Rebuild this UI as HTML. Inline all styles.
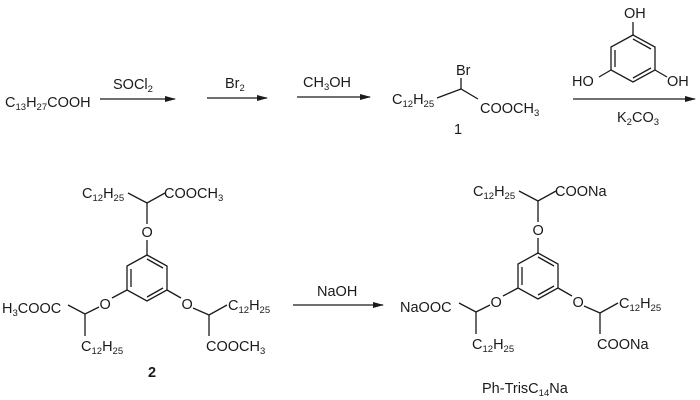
<!DOCTYPE html>
<html><head><meta charset="utf-8"><style>
html,body{margin:0;padding:0;background:#fff;width:700px;height:400px;overflow:hidden}
svg{display:block}
text{font-family:"Liberation Sans",Arial,sans-serif;font-size:14.5px;fill:#1a1a1a}
.s{font-size:9.5px}
line,polyline{stroke:#1a1a1a;stroke-width:1.3;fill:none}
</style></head><body>
<svg width="700" height="400" viewBox="0 0 700 400" xmlns="http://www.w3.org/2000/svg">
<defs><marker id="a" markerWidth="11" markerHeight="8" refX="10" refY="4" orient="auto" markerUnits="userSpaceOnUse"><path d="M0,1 L11,4 L0,7 Z" fill="#1a1a1a"/></marker></defs>

<!-- top row -->
<text x="5" y="107">C<tspan class="s" dy="3">13</tspan><tspan dy="-3">H</tspan><tspan class="s" dy="3">27</tspan><tspan dy="-3">COOH</tspan></text>
<line x1="100" y1="99" x2="175" y2="99" marker-end="url(#a)"/>
<text x="113" y="89">SOCl<tspan class="s" dy="3">2</tspan></text>
<line x1="207" y1="98" x2="267" y2="98" marker-end="url(#a)"/>
<text x="225" y="88">Br<tspan class="s" dy="3">2</tspan></text>
<line x1="297" y1="97" x2="370" y2="97" marker-end="url(#a)"/>
<text x="303" y="87">CH<tspan class="s" dy="3">3</tspan><tspan dy="-3">OH</tspan></text>

<text x="392" y="104">C<tspan class="s" dy="3">12</tspan><tspan dy="-3">H</tspan><tspan class="s" dy="3">25</tspan></text>
<polyline points="437,98 461,89 478,99"/>
<line x1="461" y1="78" x2="461" y2="89"/>
<text x="456" y="75">Br</text>
<text x="480" y="113">COOCH<tspan class="s" dy="3">3</tspan></text>
<text x="454" y="134">1</text>

<line x1="573" y1="99" x2="695" y2="99" marker-end="url(#a)"/>
<text x="617" y="122">K<tspan class="s" dy="3">2</tspan><tspan dy="-3">CO</tspan><tspan class="s" dy="3">3</tspan></text>
<polyline points="633,35 655,47 655,70 633,82 611,70 611,47 633,35"/>
<line x1="615" y1="50" x2="615" y2="67"/>
<line x1="633" y1="39" x2="651" y2="49"/>
<line x1="633" y1="78" x2="651" y2="68"/>
<line x1="633" y1="35" x2="633" y2="22"/>
<line x1="611" y1="70" x2="599" y2="77"/>
<line x1="655" y1="70" x2="667" y2="77"/>
<text x="624" y="18">OH</text>
<text x="572" y="86">HO</text>
<text x="667" y="86">OH</text>

<!-- compound 2 -->
<g id="c2">
<polyline points="147,255 167,266 167,290 147,301 127,290 127,266 147,255"/>
<line x1="131" y1="269" x2="131" y2="287"/>
<line x1="147" y1="259" x2="163" y2="268"/>
<line x1="147" y1="297" x2="163" y2="288"/>
<line x1="147" y1="255" x2="147" y2="240"/>
<line x1="147" y1="224" x2="147" y2="203"/>
<polyline points="128,193 147,203 165,193"/>
<line x1="167" y1="290" x2="181" y2="298"/>
<polyline points="193,308 209,315 227,305"/>
<line x1="209" y1="315" x2="209" y2="336"/>
<line x1="127" y1="290" x2="112" y2="298"/>
<polyline points="99,307 85,314 68,305"/>
<line x1="85" y1="314" x2="85" y2="336"/>
<text x="141.5" y="237">O</text>
<text x="181.5" y="309">O</text>
<text x="99.5" y="309">O</text>
<text x="82" y="198">C<tspan class="s" dy="3">12</tspan><tspan dy="-3">H</tspan><tspan class="s" dy="3">25</tspan></text>
<text x="228" y="310">C<tspan class="s" dy="3">12</tspan><tspan dy="-3">H</tspan><tspan class="s" dy="3">25</tspan></text>
<text x="81" y="351">C<tspan class="s" dy="3">12</tspan><tspan dy="-3">H</tspan><tspan class="s" dy="3">25</tspan></text>
</g>
<text x="164" y="198">COOCH<tspan class="s" dy="3">3</tspan></text>
<text x="206" y="351">COOCH<tspan class="s" dy="3">3</tspan></text>
<text x="2" y="313">H<tspan class="s" dy="3">3</tspan><tspan dy="-3">COOC</tspan></text>
<text x="148" y="377" style="font-weight:bold">2</text>

<line x1="293" y1="305" x2="383" y2="305" marker-end="url(#a)"/>
<text x="317" y="296">NaOH</text>

<!-- product -->
<use href="#c2" transform="translate(391,-2)"/>
<text x="555" y="196">COONa</text>
<text x="597" y="349">COONa</text>
<text x="400" y="312">NaOOC</text>
<text x="482" y="393">Ph-TrisC<tspan class="s" dy="3">14</tspan><tspan dy="-3">Na</tspan></text>
</svg>
</body></html>
